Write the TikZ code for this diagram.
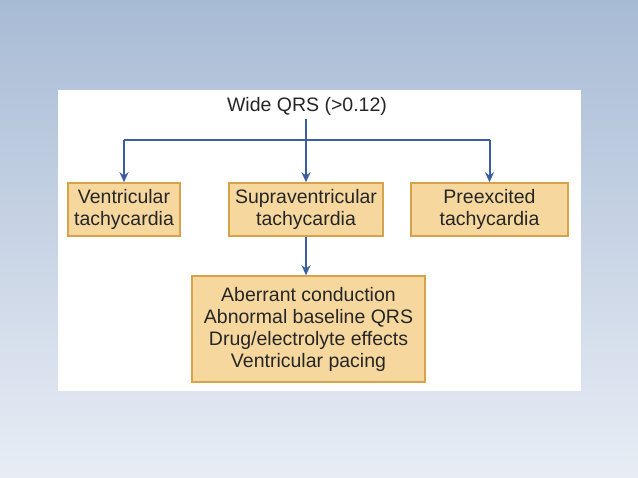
\documentclass[tikz,border=0pt]{standalone}
\usepackage{fontspec}
\setmainfont{Liberation Sans}
\usetikzlibrary{arrows.meta}
\definecolor{bgtop}{HTML}{A8BBD5}
\definecolor{bgbot}{HTML}{E8EDF5}
\definecolor{boxfill}{HTML}{F6D89F}
\definecolor{boxline}{HTML}{D6A24A}
\definecolor{linec}{HTML}{3A5E9E}
\begin{document}
\begin{tikzpicture}[x=1pt,y=-1pt,
  box/.style={draw=boxline,fill=boxfill,line width=1.5pt,align=center,font=\fontsize{19.5}{22}\selectfont,text=black!85,inner sep=0pt},
  conn/.style={draw=linec,line width=2pt,-{Stealth[length=10pt,width=9pt]}}]
\useasboundingbox (0,0) rectangle (638,478);
\shade[top color=bgtop,bottom color=bgbot] (0,0) rectangle (638,478);
\fill[white] (58,90) rectangle (581,391);
\node[font=\fontsize{19.5}{22}\selectfont,text=black!85] (t) at (307,106) {Wide QRS (>0.12)};
\node[box,minimum width=112,minimum height=53] (v) at (124,209.5) {Ventricular\\tachycardia};
\node[box,minimum width=154,minimum height=53] (s) at (306,209.5) {Supraventricular\\tachycardia};
\node[box,minimum width=157,minimum height=53] (p) at (489.5,209.5) {Preexcited\\tachycardia};
\node[box,minimum width=233,minimum height=106] (b) at (308.5,329) {Aberrant conduction\\Abnormal baseline QRS\\Drug/electrolyte effects\\Ventricular pacing};
\coordinate (jl) at (124,140);
\coordinate (jr) at (489.5,140);
\draw[linec,line width=2pt] (jl) -- (jr);
\draw[conn] (t.south -| s) -- (s.north);
\draw[conn] (jl) -- (v.north);
\draw[conn] (jr) -- (p.north);
\draw[conn] (s.south) -- (b.north -| s);
\end{tikzpicture}
\end{document}
